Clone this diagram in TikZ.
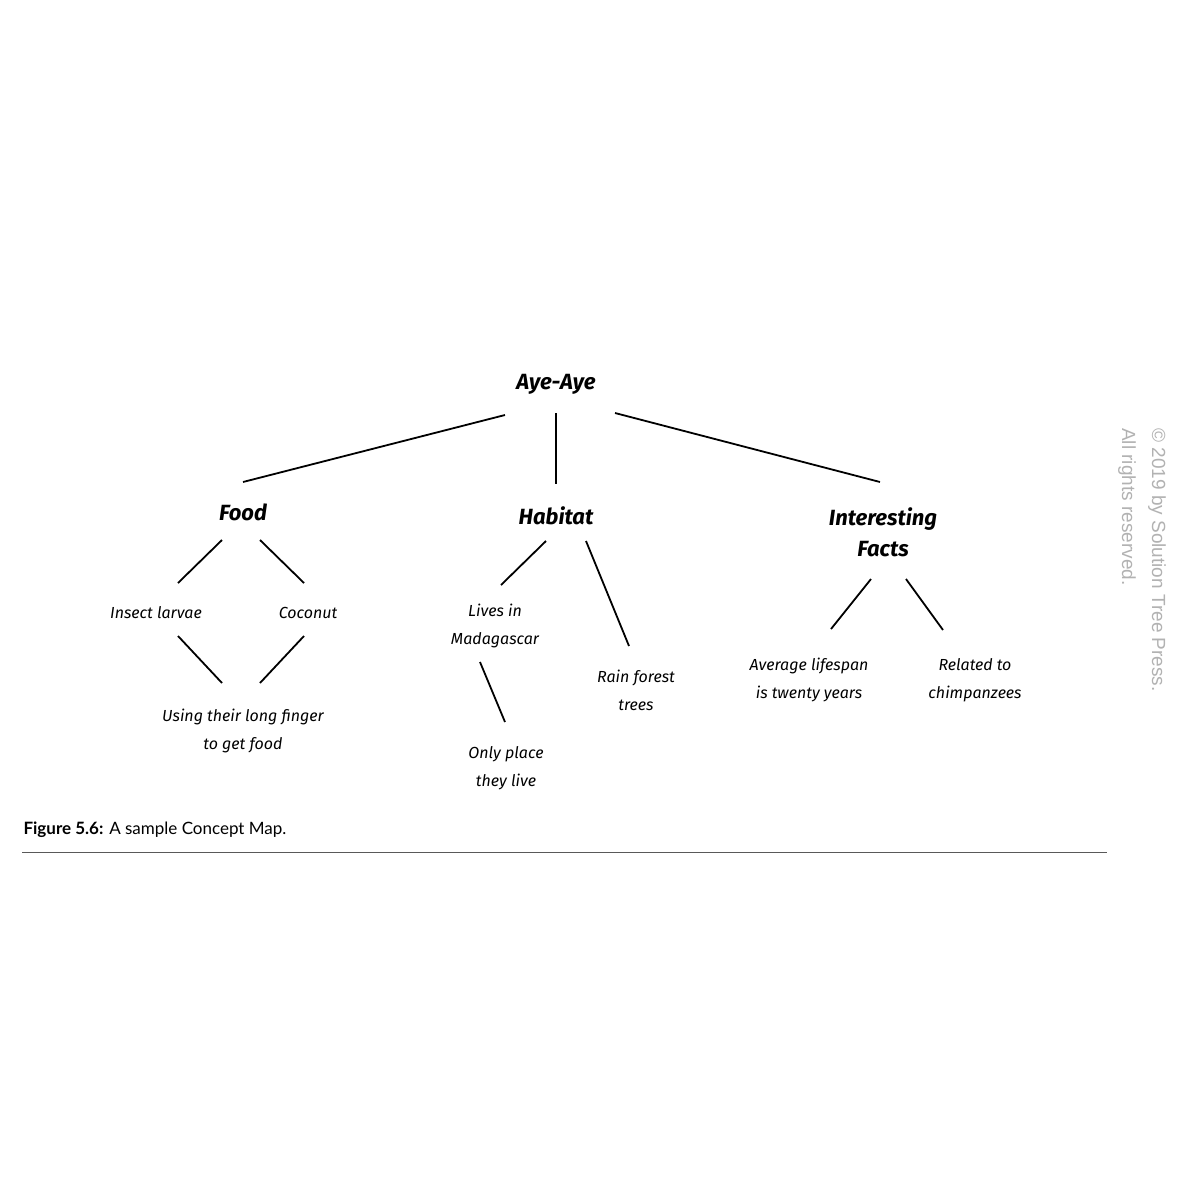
\documentclass[tikz,border=0pt]{standalone}
\usepackage{fontspec}
\setmainfont{Fira Sans}
\newfontfamily\capfont{Lato}
\newfontfamily\cpfont{Liberation Sans}
\begin{document}
\begin{tikzpicture}[x=1pt,y=-1pt,
  big/.style={font=\fontsize{22}{27}\selectfont\bfseries\itshape,align=center},
  small/.style={font=\fontsize{16}{28}\selectfont\itshape,align=center},
  ln/.style={line width=1.8pt,black}]
\useasboundingbox[fill=white] (0,0) rectangle (1200,1200);
\node[big] (aye) at (556,384) {Aye-Aye};
\node[big] (food) at (243,512) {Food};
\node[big] (hab) at (556,516) {Habitat};
\node[big,font=\fontsize{22}{31}\selectfont\bfseries\itshape] (int) at (883,532) {Interesting\\Facts};
\node[small] (ins) at (156,613) {Insect larvae};
\node[small] (coc) at (308,613) {Coconut};
\node[small] (use) at (243,731) {Using their long finger\\to get food};
\node[small] (liv) at (495,626) {Lives in\\Madagascar};
\node[small] (only) at (506,768) {Only place\\they live};
\node[small] (rain) at (636,690) {Rain forest\\trees};
\node[small] (avg) at (809,680) {Average lifespan\\is twenty years};
\node[small] (rel) at (975,680) {Related to\\chimpanzees};
\coordinate (a1) at (505,415); \coordinate (a2) at (243,482);
\draw[ln] (a1) -- (a2);
\draw[ln] (556,413) -- (556,484);
\draw[ln] (615,413) -- (880,482);
\draw[ln] (222,540) -- (178,583);
\draw[ln] (260,540) -- (304,583);
\draw[ln] (178,636) -- (222,683);
\draw[ln] (304,636) -- (260,683);
\draw[ln] (546,541) -- (501,585);
\draw[ln] (586,541) -- (629,646);
\draw[ln] (480,662) -- (505,722);
\draw[ln] (871,579) -- (831,629);
\draw[ln] (906,579) -- (943,630);
\node[anchor=west,font=\capfont\fontsize{17}{20}\selectfont] (cap) at (20,830) {\textbf{Figure 5.6:} A sample Concept Map.};
\draw[gray!70!black,line width=0.8pt] (22,852) -- (1107,852);
\node[rotate=-90,anchor=north west,align=left,text=gray!60,font=\cpfont\fontsize{19}{30}\selectfont,inner sep=0pt] (cp) at (1166,428) {© 2019 by Solution Tree Press.\\All rights reserved.};
\end{tikzpicture}
\end{document}
